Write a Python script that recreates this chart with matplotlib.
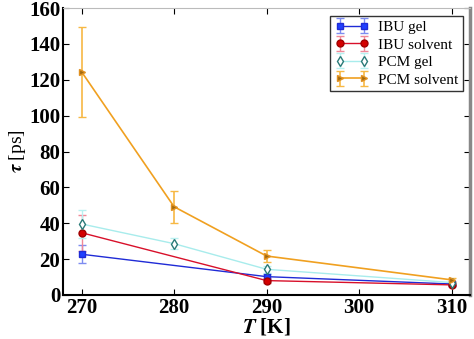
import numpy as np
import matplotlib.pyplot as plt

plt.rcParams['font.family'] = 'Liberation Serif'
plt.rcParams['mathtext.fontset'] = 'cm'

# lifetimes (ps) vs temperature (K)
T_ibu = [270, 290, 310]
ibu_gel = [22.7, 10.2, 6.1]
ibu_gel_err = [5.0, 1.5, 0.8]
ibu_solv = [34.7, 8.0, 5.6]
ibu_solv_err = [10.0, 1.2, 0.8]

T_pcm = [270, 280, 290, 310]
pcm_gel = [39.6, 28.6, 14.3, 6.9]
pcm_gel_err = [8.0, 3.0, 2.0, 0.8]
pcm_solv = [124.5, 49.2, 21.7, 8.4]
pcm_solv_err = [25.0, 9.0, 3.5, 1.0]

fig = plt.figure(figsize=(4.74, 3.39), dpi=100)
ax = fig.add_axes([0.133, 0.130, 0.859, 0.846])

ax.errorbar(T_ibu, ibu_gel, yerr=ibu_gel_err, color='#1f2bd6', marker='s', ms=5,
            mfc='#2040ff', mec='#1f2bd6', lw=1.0, ecolor='#7d8cf0', elinewidth=1,
            capsize=3, label='IBU gel')
ax.errorbar(T_ibu, ibu_solv, yerr=ibu_solv_err, color='#d8102a', marker='o', ms=5,
            mfc='#d40000', mec='#a00000', lw=1.0, ecolor='#f08898', elinewidth=1,
            capsize=3, label='IBU solvent')
ax.errorbar(T_pcm, pcm_gel, yerr=pcm_gel_err, color='#a8ecec', marker='d', ms=5,
            mfc='white', mec='#2a7a78', mew=1.0, lw=1.0, ecolor='#b8f0f0', elinewidth=1,
            capsize=3, label='PCM gel')
ax.errorbar(T_pcm, pcm_solv, yerr=pcm_solv_err, color='#f0a020', marker='>', ms=5,
            mfc='#a06a10', mec='#e09020', lw=1.2, ecolor='#f7b844', elinewidth=1.2,
            capsize=3, label='PCM solvent')

ax.set_xlim(268, 312)
ax.set_ylim(0, 160)
ax.set_xticks([270, 280, 290, 300, 310])
ax.set_yticks(np.arange(0, 161, 20))
ax.tick_params(direction='in', top=True, right=True, length=4, width=0.8,
               labelsize=15, pad=2)
for lab in ax.get_xticklabels() + ax.get_yticklabels():
    lab.set_fontweight('bold')

ax.spines['left'].set_linewidth(1.5)
ax.spines['bottom'].set_linewidth(1.5)
ax.spines['top'].set_color('#bbbbbb')
ax.spines['top'].set_linewidth(0.8)
ax.spines['right'].set_color('#888888')
ax.spines['right'].set_linewidth(2.5)

ax.set_xlabel(r'$\boldsymbol{T}$ [K]', fontsize=15, fontweight='bold', labelpad=-1)
ax.set_ylabel(r'$\boldsymbol{\tau}$ [ps]', fontsize=14, labelpad=1)

leg = ax.legend(loc='upper right', fontsize=11, frameon=True, fancybox=False,
                edgecolor='black', handlelength=2.2, borderpad=0.3, numpoints=2,
                labelspacing=0.25, handletextpad=0.6)
leg.get_frame().set_linewidth(1.0)

fig.savefig('out.png', dpi=100)
